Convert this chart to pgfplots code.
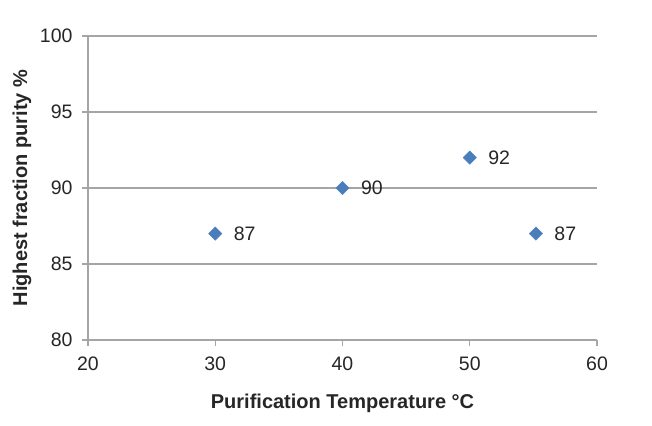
\documentclass[border=0pt]{standalone}
\usepackage{pgfplots}
\pgfplotsset{compat=1.18}
\usepackage{fontspec}
\setmainfont{Liberation Sans}
\definecolor{gridc}{RGB}{165,165,165}
\definecolor{markc}{RGB}{74,126,187}
\begin{document}
\begin{tikzpicture}
\begin{axis}[
  at={(0,0)}, anchor=south west,
  scale only axis, width=509bp, height=304bp,
  xmin=20, xmax=60, ymin=80, ymax=100,
  xtick={20,30,40,50,60}, ytick={80,85,90,95,100},
  axis x line*=bottom, axis y line*=left,
  axis line style={gridc, line width=1.6bp, -},
  ymajorgrids, grid style={gridc, line width=1.4bp},
  tick style={gridc, line width=1.4bp},
  tick align=outside, major tick length=6bp,
  ticklabel style={font=\fontsize{19.5bp}{22bp}\selectfont, text=black!85},
  xticklabel style={yshift=-7bp},
  yticklabel style={xshift=-6bp},
  /pgf/number format/assume math mode=true,
  xlabel={Purification Temperature °C},
  ylabel={Highest fraction purity \%},
  every axis x label/.style={at={(axis description cs:0.5,0)}, yshift=-63bp, anchor=center, font=\bfseries\fontsize{20bp}{22bp}\selectfont, text=black!85},
  every axis y label/.style={at={(axis description cs:0,0.5)}, xshift=-66bp, rotate=90, anchor=center, font=\bfseries\fontsize{20bp}{22bp}\selectfont, text=black!85},
  clip=false,
]
\addplot[only marks, mark=square*, mark size=4.7bp, mark options={rotate=45, fill=markc, draw=markc},
  nodes near coords,
  every node near coord/.style={anchor=west, xshift=15bp, font=\fontsize{19.5bp}{22bp}\selectfont, text=black!85}]
  coordinates {(30,87) (40,90) (50,92) (55.2,87)};
\end{axis}
\pgfresetboundingbox
\path (-88bp,-86bp) rectangle (564bp,340bp);
\end{tikzpicture}
\end{document}
